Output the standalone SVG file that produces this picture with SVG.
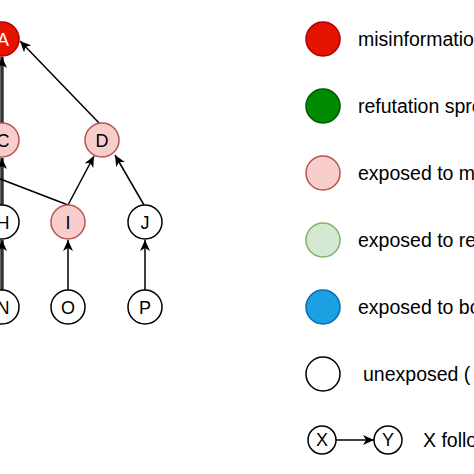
<svg xmlns="http://www.w3.org/2000/svg" width="474" height="474" viewBox="0 0 474 474">
<style>
.n{stroke-width:1.5}
.w{fill:#ffffff;stroke:#000000}
.p{fill:#f8cecc;stroke:#b85450}
.r{fill:#e51400;stroke:#b20000}
.g{fill:#008a00;stroke:#005700}
.lg{fill:#d5e8d4;stroke:#82b366}
.b{fill:#1ba1e2;stroke:#006eaf}
text{font-family:"Liberation Sans",Arial,Helvetica,sans-serif;fill:#000}
.lbl{font-size:18px;text-anchor:middle}
.leg{font-size:19.5px}
.thin{stroke:#000;stroke-width:1.5;fill:none}
.thick{stroke:#333;stroke-width:3.5;fill:none}
</style>
<defs>
<marker id="arr" markerUnits="userSpaceOnUse" markerWidth="12" markerHeight="10" refX="11" refY="5" orient="auto" viewBox="0 0 12 10">
<path d="M0,0 L11,5 L0,10 L3,5 Z" fill="#000"/>
</marker>
</defs>
<rect width="474" height="474" fill="#fff"/>
<g id="connectors">
<line class="thick" x1="2" y1="123" x2="2" y2="57" marker-end="url(#arr)"/>
<line class="thick" x1="2" y1="205" x2="2" y2="158" marker-end="url(#arr)"/>
<line class="thick" x1="2" y1="290" x2="2" y2="240" marker-end="url(#arr)"/>
<line class="thin" x1="100" y1="124" x2="20" y2="41" marker-end="url(#arr)"/>
<line class="thin" x1="68" y1="205" x2="94" y2="156" marker-end="url(#arr)"/>
<line class="thin" x1="144" y1="205" x2="115" y2="155" marker-end="url(#arr)"/>
<line class="thin" x1="68" y1="205" x2="-10" y2="175"/>
<line class="thin" x1="68" y1="290" x2="68" y2="240" marker-end="url(#arr)"/>
<line class="thin" x1="145" y1="290" x2="145" y2="240" marker-end="url(#arr)"/>
</g>
<g id="node-A"><circle class="n r" cx="2" cy="39" r="17"/><text class="lbl" x="3" y="45.5" style="fill:#fff">A</text></g>
<g id="node-C"><circle class="n p" cx="2" cy="140" r="17"/><text class="lbl" x="3" y="146.5">C</text></g>
<g id="node-D"><circle class="n p" cx="102" cy="140" r="17"/><text class="lbl" x="102" y="146.5">D</text></g>
<g id="node-H"><circle class="n w" cx="2" cy="222" r="17"/><text class="lbl" x="3" y="228.5">H</text></g>
<g id="node-I"><circle class="n p" cx="68" cy="222" r="17"/><text class="lbl" x="68" y="228.5">I</text></g>
<g id="node-J"><circle class="n w" cx="145" cy="222" r="17"/><text class="lbl" x="145" y="228.5">J</text></g>
<g id="node-N"><circle class="n w" cx="2" cy="307" r="17"/><text class="lbl" x="3" y="313.5">N</text></g>
<g id="node-O"><circle class="n w" cx="68" cy="307" r="17"/><text class="lbl" x="68" y="313.5">O</text></g>
<g id="node-P"><circle class="n w" cx="145" cy="307" r="17"/><text class="lbl" x="145" y="313.5">P</text></g>
<g id="legend">
<g id="leg-red"><circle class="n r" cx="323" cy="39" r="17"/><text class="leg" x="358" y="45.5">misinformation</text></g>
<g id="leg-green"><circle class="n g" cx="323" cy="106" r="17"/><text class="leg" x="358" y="112.5">refutation spreader</text></g>
<g id="leg-pink"><circle class="n p" cx="323" cy="173" r="17"/><text class="leg" x="358" y="179.5">exposed to misinformation</text></g>
<g id="leg-lightgreen"><circle class="n lg" cx="323" cy="240" r="17"/><text class="leg" x="358" y="246.5">exposed to refutation</text></g>
<g id="leg-blue"><circle class="n b" cx="323" cy="307" r="17"/><text class="leg" x="358" y="313.5">exposed to both</text></g>
<g id="leg-white"><circle class="n w" cx="323" cy="374" r="17"/><text class="leg" x="363" y="380.5">unexposed (</text></g>
<g id="leg-follow">
<circle class="n w" cx="322" cy="440" r="14"/><text class="lbl" x="322" y="446">X</text>
<circle class="n w" cx="388" cy="440" r="14"/><text class="lbl" x="388" y="446">Y</text>
<line class="thin" x1="336" y1="440" x2="374" y2="440" marker-end="url(#arr)"/>
<text class="leg" x="423" y="446.5">X follows Y</text>
</g>
</g>
</svg>
